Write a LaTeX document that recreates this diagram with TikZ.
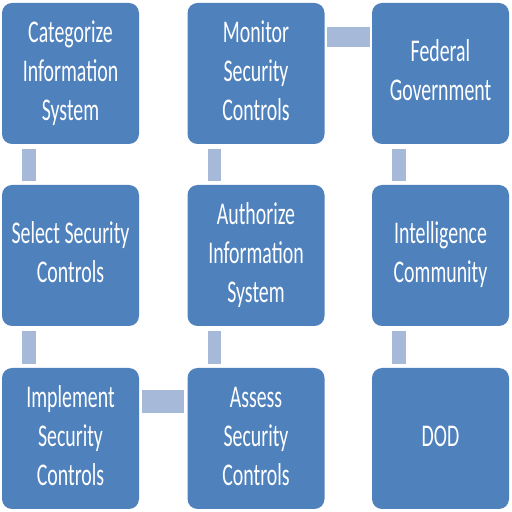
\documentclass[tikz,border=0pt]{standalone}
\usepackage{fontspec}
\setmainfont{Carlito}
\usetikzlibrary{calc}
\definecolor{boxblue}{HTML}{4F81BD}
\definecolor{connblue}{HTML}{A7B9D8}
\newcommand{\sqtext}[1]{\raisebox{-2pt}{\scalebox{0.64}[1.02]{\begin{tabular}{@{}c@{}}#1\end{tabular}}}}
\tikzset{
  box/.style={fill=boxblue, rounded corners=10pt, minimum width=137pt, minimum height=141pt,
    inner sep=0pt, text=white, font=\fontsize{31}{38}\selectfont},
  conn/.style={fill=connblue}
}
\begin{document}
\begin{tikzpicture}[x=1pt,y=1pt]
\useasboundingbox (0,0) rectangle (512,512);
% column centres 70.5, 256, 440.5 ; row centres 438.5, 256.5, 73.5
\node[box] (cat) at (70.5,438.5) {\sqtext{Categorize\\Information\\System}};
\node[box] (sel) at (70.5,256.5) {\sqtext{Select Security\\Controls}};
\node[box] (imp) at (70.5,73.5) {\sqtext{Implement\\Security\\Controls}};
\node[box] (mon) at (256,438.5) {\sqtext{Monitor\\Security\\Controls}};
\node[box] (aut) at (256,256.5) {\sqtext{Authorize\\Information\\System}};
\node[box] (ass) at (256,73.5) {\sqtext{Assess\\Security\\Controls}};
\node[box] (fed) at (440.5,438.5) {\sqtext{Federal\\Government}};
\node[box] (int) at (440.5,256.5) {\sqtext{Intelligence\\Community}};
\node[box] (dod) at (440.5,73.5) {\sqtext{DOD}};
% vertical connectors
\fill[conn] ($(cat.south west)+(20.5,-5)$) rectangle ($(sel.north west)+(34,4)$);
\fill[conn] ($(sel.south west)+(20.5,-5)$) rectangle ($(imp.north west)+(34,4)$);
\fill[conn] ($(mon.south west)+(20.5,-5)$) rectangle ($(aut.north west)+(34,4)$);
\fill[conn] ($(aut.south west)+(20.5,-5)$) rectangle ($(ass.north west)+(34,4)$);
\fill[conn] ($(fed.south west)+(20.5,-5)$) rectangle ($(int.north west)+(34,4)$);
\fill[conn] ($(int.south west)+(20.5,-5)$) rectangle ($(dod.north west)+(34,4)$);
% horizontal connectors
\fill[conn] ($(mon.north east)+(2,-24)$) rectangle ($(fed.north west)+(-2,-44)$);
\fill[conn] ($(imp.north east)+(3,-22)$) rectangle ($(ass.north west)+(-3,-45)$);
\end{tikzpicture}
\end{document}
